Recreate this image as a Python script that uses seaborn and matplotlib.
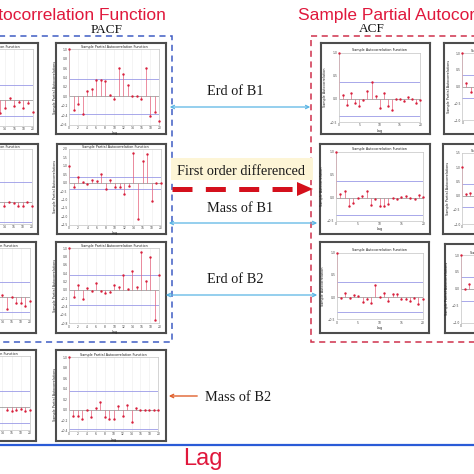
import matplotlib.pyplot as plt
import seaborn as sns
from matplotlib.patches import Rectangle, Polygon, FancyArrowPatch

sns.set_style("white")

W, H = 474, 474

# ---- values ----
lags = list(range(21))

# left column: only lags 13-20 are visible, the rest is cut off
left_lags_1 = [13, 14, 15, 16, 17, 18, 19, 20]
left_vals_1 = [-0.25, -0.15, 0.05, -0.12, -0.03, -0.15, -0.05, -0.23]
left_lags_2 = [14, 15, 16, 17, 18, 19, 20]
left_vals_2 = [-0.08, 0.0, -0.02, -0.08, -0.08, 0.0, -0.08]
left_lags_3 = [14, 15, 16, 17, 18, 19, 20]
left_vals_3 = [0.04, -0.24, -0.01, -0.12, -0.12, -0.18, -0.08]
left_lags_4 = [15, 16, 17, 18, 19, 20]
left_vals_4 = [-0.05, -0.07, -0.05, -0.03, -0.07, -0.05]

# PACF column
pacf_erd_b1 = [1.0, -0.28, -0.16, -0.37, 0.12, 0.15, 0.34, 0.34, 0.32, 0.04, -0.05,
               0.61, 0.48, 0.25, 0.0, 0.0, -0.05, 0.61, -0.41, -0.32, -0.53]
pacf_mass_b1 = [1.0, -0.24, 0.36, 0.04, -0.06, 0.16, 0.12, 0.5, -0.4, 0.16, -0.26,
                -0.24, -0.7, -0.2, 1.76, -2.14, 1.3, 1.72, -1.1, 0.0, 0.0]
pacf_erd_b2 = [1.0, -0.16, 0.12, -0.22, 0.05, -0.03, 0.16, -0.02, -0.08, -0.05, 0.12,
               0.06, 0.36, 0.02, 0.46, 0.06, 0.92, 0.22, 0.78, -0.72, 0.36]
pacf_mass_b2 = [1.0, -0.12, -0.12, -0.18, 0.0, -0.14, 0.03, 0.16, -0.13, -0.18, -0.17,
                0.07, -0.12, 0.1, -0.22, 0.03, 0.0, 0.0, 0.0, 0.0, 0.0]

# ACF after first order differencing
acf_erd_b1 = [1.0, 0.09, -0.14, 0.12, -0.09, -0.15, -0.02, 0.17, 0.36, 0.07, -0.19,
              0.12, -0.16, -0.25, -0.01, -0.01, -0.04, 0.04, 0.0, -0.08, -0.02]
acf_mass_b1 = [1.0, 0.09, 0.15, -0.17, -0.11, -0.01, 0.04, 0.15, -0.15, -0.02, -0.17,
               -0.17, -0.14, 0.0, -0.03, 0.01, 0.03, 0.0, -0.02, 0.05, 0.01]
acf_erd_b2 = [1.0, -0.02, 0.1, -0.02, 0.05, 0.02, -0.12, -0.05, -0.14, 0.27, 0.0,
              0.1, -0.09, 0.08, 0.08, -0.05, -0.05, -0.08, -0.02, -0.16, -0.05]

# right column: only lags 0-2 visible
right_lags = [0, 1, 2]
right_vals_1 = [1.0, 0.1, -0.15]
right_vals_2 = [1.0, 0.05, 0.1]
right_vals_3 = [1.0, 0.0, 0.13]

fig = plt.figure(figsize=(4.74, 4.74), dpi=100)


def box(x0, y0, x1, y1):
    # pixel rectangle (top-left origin) -> figure axes
    return fig.add_axes([x0 / W, 1 - y1 / H, (x1 - x0) / W, (y1 - y0) / H])


def panel(frame, inner, x, y, ylim, yticks, xticks, conf, title, ylabel, grid=False):
    fr = box(*frame)
    fr.set_xticks([])
    fr.set_yticks([])
    for s in fr.spines.values():
        s.set_color("#4d4d4d")
        s.set_linewidth(1.5)

    ax = box(*inner)
    if grid:
        for t in xticks:
            ax.axvline(t, color="#ededed", lw=0.4, zorder=0)
    ax.axhline(0, color="#707070", lw=0.4, zorder=1)
    ax.axhline(conf, color="#9a9ae6", lw=0.6, zorder=1)
    ax.axhline(-conf, color="#9a9ae6", lw=0.6, zorder=1)
    ax.vlines(x, 0, y, color="#e6607a", lw=0.5, zorder=2)
    sns.scatterplot(x=x, y=y, ax=ax, color="#d8203c", s=3, linewidth=0,
                    legend=False, zorder=3, clip_on=False)
    ax.set_xlim(0, 20)
    ax.set_ylim(*ylim)
    ax.set_xticks(xticks)
    ax.set_yticks(yticks)
    ax.set_xticklabels([str(t) for t in xticks])
    ax.tick_params(labelsize=2.2, length=0, pad=1, colors="#444444")
    for s in ax.spines.values():
        s.set_color("#c4c4c4")
        s.set_linewidth(0.5)
    ax.set_title(title, fontsize=2.4, pad=1, color="#222222")
    ax.set_ylabel(ylabel, fontsize=2.4, labelpad=2, color="#222222")
    ax.set_xlabel("Lag", fontsize=2.4, labelpad=1, color="#222222")
    return ax


pt = "Sample Partial Autocorrelation Function"
pl = "Sample Partial Autocorrelations"
at = "Sample Autocorrelation Function"
al = "Sample Autocorrelation"
x2 = list(range(0, 21, 2))
x5 = [0, 5, 10, 15, 20]

# left column (mostly off the canvas)
panel((-72, 43, 38, 134), (-59.5, 49, 32.5, 126), left_lags_1, left_vals_1,
      (-0.5, 1), [-0.4, -0.2, 0, 0.2, 0.4, 0.6, 0.8, 1], x2, 0.3, pt, pl, grid=True)
panel((-72, 144, 38, 234), (-60, 149, 32, 224), left_lags_2, left_vals_2,
      (-0.45, 1.05), [-0.4, -0.2, 0, 0.2, 0.4, 0.6, 0.8, 1], x2, 0.4, pt, pl, grid=True)
panel((-74, 242, 36, 333), (-62, 248, 30, 319), left_lags_3, left_vals_3,
      (-0.45, 1), [-0.4, -0.2, 0, 0.2, 0.4, 0.6, 0.8, 1], x2, 0.3, pt, pl, grid=True)
panel((-74, 350, 36, 441), (-62, 356, 30, 430), left_lags_4, left_vals_4,
      (-0.45, 1), [-0.4, -0.2, 0, 0.2, 0.4, 0.6, 0.8, 1], x2, 0.31, pt, pl, grid=True)

# PACF column
panel((56, 43, 166, 134), (69, 49.3, 159.3, 124.7), lags, pacf_erd_b1,
      (-0.6, 1), [-0.6, -0.4, -0.2, 0, 0.2, 0.4, 0.6, 0.8, 1], x2, 0.37, pt, pl, grid=True)
panel((57, 144, 166, 234), (69, 149, 161, 224.7), lags, pacf_mass_b1,
      (-2.5, 2), [-2.5, -2, -1.5, -1, -0.5, 0, 0.5, 1, 1.5, 2], x2, 0.35, pt, pl, grid=True)
panel((56, 242, 166, 333), (69, 248.3, 159.3, 323.3), lags, pacf_erd_b2,
      (-0.8, 1), [-0.8, -0.6, -0.4, -0.2, 0, 0.2, 0.4, 0.6, 0.8, 1], x2, 0.36, pt, pl, grid=True)
panel((56, 350, 166, 441), (69, 357.3, 158.3, 431), lags, pacf_mass_b2,
      (-0.4, 1), [-0.4, -0.2, 0, 0.2, 0.4, 0.6, 0.8, 1], x2, 0.36, pt, pl, grid=True)

# ACF column
panel((321, 43, 430, 134), (339, 52.7, 420.3, 122), lags, acf_erd_b1,
      (-0.5, 1), [-0.5, 0, 0.5, 1], x5, 0.36, at, al)
panel((320, 144, 430, 234), (336, 151.7, 423.3, 220.7), lags, acf_mass_b1,
      (-0.5, 1), [-0.5, 0, 0.5, 1], x5, 0.37, at, al)
panel((320, 242, 429, 333), (336.7, 252.7, 422.7, 319.3), lags, acf_erd_b2,
      (-0.5, 1), [-0.5, 0, 0.5, 1], x5, 0.34, at, al)

# right column (mostly off the canvas)
panel((444, 43, 554, 134), (462.3, 53.3, 546, 120), right_lags, right_vals_1,
      (-1, 1), [-1, -0.5, 0, 0.5, 1], x5, 0.35, pt, pl)
panel((443, 144, 553, 234), (462, 153, 546, 224), right_lags, right_vals_2,
      (-1, 1.5), [-1, -0.5, 0, 0.5, 1, 1.5], x5, 0.4, pt, pl)
panel((445, 244, 555, 333), (461, 255, 545, 322.7), right_lags, right_vals_3,
      (-1, 1), [-1, -0.5, 0, 0.5, 1], x5, 0.35, pt, pl)

# ---- overlay: boxes, arrows and annotations ----
ov = fig.add_axes([0, 0, 1, 1], zorder=10)
ov.set_xlim(0, W)
ov.set_ylim(H, 0)
ov.axis("off")
ov.patch.set_alpha(0)

ov.add_patch(Rectangle((-10, 36), 182, 306, fill=False, ec="#3f5cc4", lw=1.1,
                       ls=(0, (4, 3))))
ov.add_patch(Rectangle((311, 36), 180, 306, fill=False, ec="#d0304c", lw=1.1,
                       ls=(0, (4, 3))))

red = "#e0183c"
ov.text(165.7, 20, "Sample Autocorrelation Function", ha="right", va="baseline",
        fontsize=12.5, color=red, family="Liberation Sans")
ov.text(298, 20, "Sample Partial Autocorrelation Function", ha="left", va="baseline",
        fontsize=12.5, color=red, family="Liberation Sans")
ov.text(107, 33.3, "PACF", ha="center", va="baseline", fontsize=9.5,
        family="Liberation Serif", color="#111111")
ov.text(371.5, 32, "ACF", ha="center", va="baseline", fontsize=9.5,
        family="Liberation Serif", color="#111111")

serif = dict(fontsize=10.3, family="Liberation Serif", color="#1a1a1a", va="baseline")
ov.text(235.5, 95, "Erd of B1", ha="center", **serif)
ov.text(240, 212.3, "Mass of B1", ha="center", **serif)
ov.text(235.5, 282.7, "Erd of B2", ha="center", **serif)
ov.text(205.3, 401, "Mass of B2", ha="left", **serif)

ov.add_patch(Rectangle((171, 158), 142, 22, fc="#fdf5d6", ec="none"))
ov.text(241, 175, "First order differenced", ha="center", **serif)

blue = "#5ab4e4"
for y0, xa, xb in [(107, 167, 313), (223, 166, 320), (295, 163, 320)]:
    ov.add_patch(FancyArrowPatch((xa, y0), (xb, y0), arrowstyle="<->",
                                 mutation_scale=6, color=blue, lw=0.9))
ov.add_patch(FancyArrowPatch((200, 396), (166, 396), arrowstyle="->",
                             mutation_scale=6, color="#e0602c", lw=1.0))

ov.plot([172, 297], [189, 189], color="#d4101c", lw=3.6, dashes=(4.0, 2.67),
        solid_capstyle="butt", dash_capstyle="butt")
ov.add_patch(Polygon([(297, 182), (313, 189), (297, 196)], closed=True,
                     fc="#d4101c", ec="none"))

ov.plot([0, W], [445, 445], color="#2a5bd7", lw=1.6)
ov.text(203, 465, "Lag", ha="center", va="baseline", fontsize=17, color=red,
        family="Liberation Sans")

fig.savefig("out.png", dpi=100)
